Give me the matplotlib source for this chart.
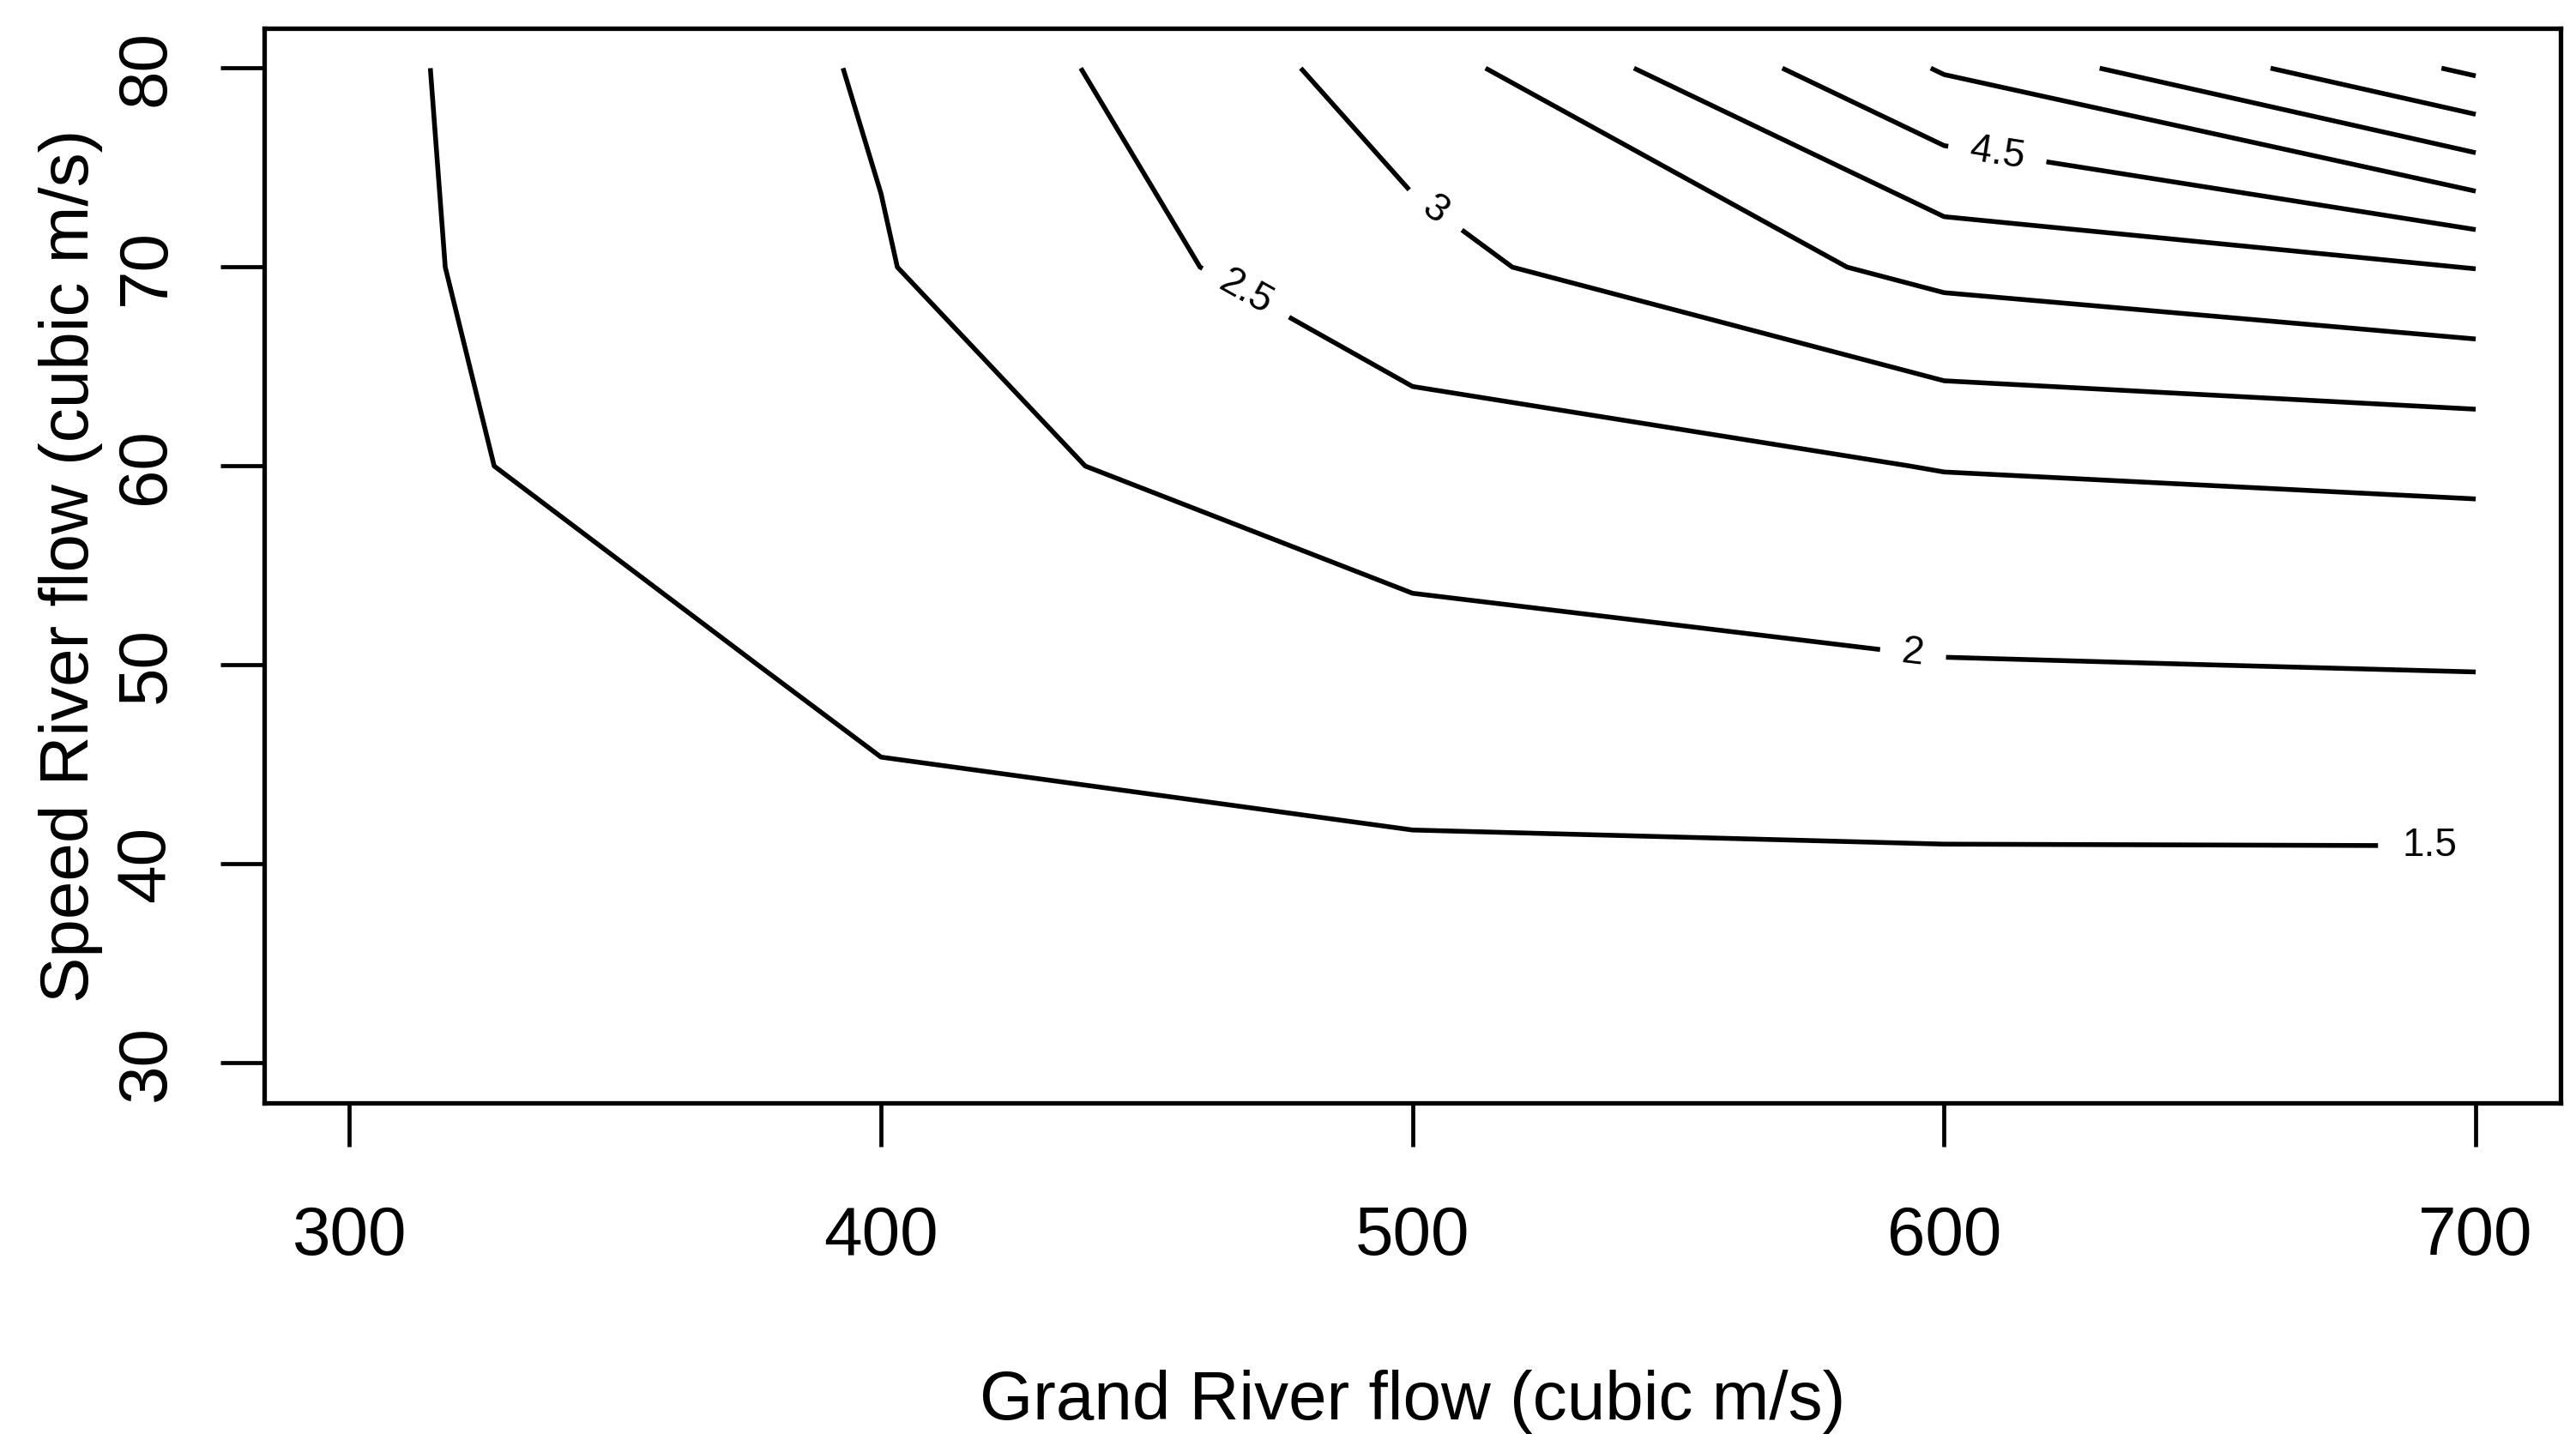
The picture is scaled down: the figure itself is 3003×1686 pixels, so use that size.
import numpy as np
import matplotlib
matplotlib.use("Agg")
import matplotlib.pyplot as plt

plt.rcParams['font.family'] = ['Liberation Sans', 'DejaVu Sans']

# Grid of the surface (Grand River flow x Speed River flow)
grand_flow = [300, 400, 500, 600, 700]
speed_flow = [30, 40, 50, 60, 70, 80]

z_speed30 = [1.25, 1.38, 1.40, 1.42, 1.42]
z_speed40 = [1.30, 1.442, 1.428, 1.447, 1.448]
z_speed50 = [1.334, 1.55, 1.85, 1.979, 2.020]
z_speed60 = [1.375, 1.834, 2.266, 2.516, 2.595]
z_speed70 = [1.396, 1.973, 2.851, 3.645, 4.012]
z_speed80 = [1.402, 2.046, 3.254, 5.045, 6.600]

contour_levels = [1.5, 2.0, 2.5, 3.0, 3.5, 4.0, 4.5, 5.0, 5.5, 6.0, 6.5]

x_ticks = [300, 400, 500, 600, 700]
y_ticks = [30, 40, 50, 60, 70, 80]
x_label = "Grand River flow (cubic m/s)"
y_label = "Speed River flow (cubic m/s)"

Z = np.array([z_speed30, z_speed40, z_speed50, z_speed60, z_speed70, z_speed80])

W, H, DPI = 3003, 1686, 200
L, R, B, T = 308.2, 2985.2, 1285.7, 33.1
fig = plt.figure(figsize=(W / DPI, H / DPI), dpi=DPI)
ax = fig.add_axes([L / W, 1 - B / H, (R - L) / W, (B - T) / H])

ax.set_xlim(284, 716)
ax.set_ylim(28, 82)

cs = ax.contour(grand_flow, speed_flow, Z, levels=contour_levels,
                colors='black', linewidths=2.0)

fmt = lambda v: f'{v:g}'
# label at the end of the 1.5 line
ax.clabel(cs, levels=contour_levels, manual=[(691.3, 40.9)], inline=True,
          inline_spacing=28, fontsize=16.5, fmt=fmt)
# labels on 2, 2.5, 3 and 4.5
label_spots = [(594.1, 50.45), (468.3, 68.55), (504.1, 72.8), (609.9, 75.5)]
ax.clabel(cs, levels=contour_levels, manual=label_spots, inline=True,
          inline_spacing=26, fontsize=16.5, fmt=fmt)

for s in ax.spines.values():
    s.set_linewidth(1.9)
    s.set_color('black')

ax.set_xticks(x_ticks)
ax.set_yticks(y_ticks)
ax.set_xticklabels([str(v) for v in x_ticks])
ax.set_yticklabels([str(v) for v in y_ticks])
ax.tick_params(axis='both', direction='out', length=18.4, width=1.7,
               labelsize=28.8, colors='black')
ax.tick_params(axis='x', pad=24.5)
ax.tick_params(axis='y', pad=17.5)
for tl in ax.get_yticklabels():
    tl.set_rotation(90)
    tl.set_va('center')
    tl.set_ha('right')

fig.text(0.5 * (L + R) / W, 1 - 1655 / H, x_label, fontsize=28.8,
         ha='center', va='baseline')
fig.text(103.3 / W, 1 - 0.5 * (B + T) / H, y_label, fontsize=28.8, rotation=90,
         rotation_mode='anchor', ha='center', va='baseline')

fig.savefig('out.png', dpi=DPI, facecolor='white')
